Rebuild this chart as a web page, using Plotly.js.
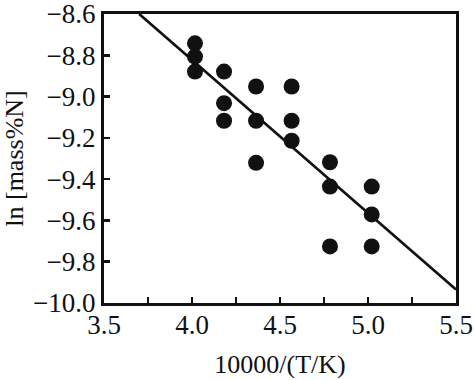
<!DOCTYPE html>
<html>
<head>
<meta charset="utf-8">
<script src="https://cdn.plot.ly/plotly-3.0.1.min.js"></script>
<style>html,body{margin:0;padding:0;background:#fff;}#chart{width:474px;height:380px;}</style>
</head>
<body>
<div id="chart"></div>
<script>
const xValues = [4.017, 4.017, 4.017, 4.182, 4.182, 4.182, 4.364, 4.364, 4.364, 4.566, 4.566, 4.566, 4.784, 4.784, 4.784, 5.021, 5.021, 5.021];
const yValues = [-8.742, -8.806, -8.879, -8.879, -9.032, -9.117, -8.951, -9.117, -9.321, -8.951, -9.117, -9.214, -9.318, -9.436, -9.726, -9.436, -9.571, -9.726];
const fitX = [3.70, 5.5];
const fitY = [-8.6, -9.935];
const xTickVals = [3.5, 4.0, 4.5, 5.0, 5.5];
const xTickText = ['3.5', '4.0', '4.5', '5.0', '5.5'];
const yTickVals = [-10.0, -9.8, -9.6, -9.4, -9.2, -9.0, -8.8, -8.6];
const yTickText = ['\u221210.0', '\u22129.8', '\u22129.6', '\u22129.4', '\u22129.2', '\u22129.0', '\u22128.8', '\u22128.6'];

const font = 'Liberation Serif, Times New Roman, serif';
const traces = [
  {x: fitX, y: fitY, mode: 'lines', line: {color: '#111', width: 2.7}, hoverinfo: 'skip'},
  {x: xValues, y: yValues, mode: 'markers', marker: {color: '#111', size: 16}}
];
const layout = {
  width: 474, height: 380,
  margin: {l: 104, r: 18, t: 14, b: 77},
  paper_bgcolor: '#fff', plot_bgcolor: '#fff',
  showlegend: false,
  font: {family: font, color: '#111', size: 26},
  xaxis: {
    range: [3.5, 5.5], tickvals: xTickVals, ticktext: xTickText,
    ticks: 'inside', ticklen: 6, tickwidth: 2.5, tickcolor: '#111',
    minor: {tickvals: [3.75, 4.25, 4.75, 5.25], ticks: 'inside', ticklen: 6, tickwidth: 2.5, tickcolor: '#111', showgrid: false},
    showline: true, linecolor: '#111', linewidth: 3, mirror: true,
    showgrid: false, zeroline: false,
    tickfont: {family: font, size: 27, color: '#111'},
    ticklabelstandoff: -4, ticklabeloverflow: 'allow',
    title: {text: '10000/(T/K)', font: {family: font, size: 26, color: '#111'}, standoff: 16}
  },
  yaxis: {
    range: [-10.0, -8.5999], tickvals: yTickVals, ticktext: yTickText,
    ticks: 'inside', ticklen: 6, tickwidth: 2.5, tickcolor: '#111',
    showline: true, linecolor: '#111', linewidth: 3, mirror: true,
    showgrid: false, zeroline: false,
    tickfont: {family: font, size: 27, color: '#111'},
    ticklabeloverflow: 'allow',
    title: {text: 'ln [mass%N]', font: {family: font, size: 26, color: '#111'}, standoff: 4}
  }
};
Plotly.newPlot('chart', traces, layout, {displayModeBar: false, staticPlot: true});
</script>
</body>
</html>
